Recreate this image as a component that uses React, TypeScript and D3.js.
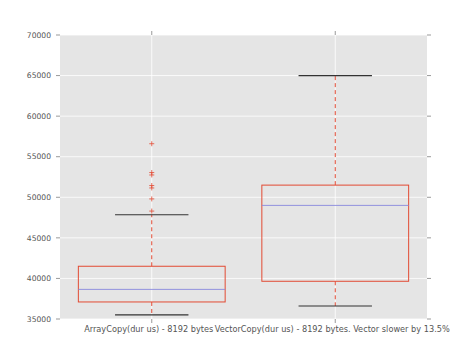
import React from 'react';
import * as d3 from 'd3';

const categories = [
  'ArrayCopy(dur us) - 8192 bytes',
  'VectorCopy(dur us) - 8192 bytes. Vector slower by 13.5%',
];
// box stats: whisker low, q1, median, q3, whisker high
const whiskerLow = [35500, 36600];
const q1 = [37100, 39650];
const medians = [38650, 49000];
const q3 = [41500, 51500];
const whiskerHigh = [47850, 65000];
const fliers = [
  [48300, 49800, 51150, 51450, 52750, 53050, 56600],
  [],
];
const yTicks = [35000, 40000, 45000, 50000, 55000, 60000, 65000, 70000];

const W = 474;
const H = 355;
const margin = { left: 60, right: 47, top: 35, bottom: 36 };

export default function App() {
  const x = d3.scaleLinear().domain([0.5, 2.5]).range([margin.left, W - margin.right]);
  const y = d3.scaleLinear().domain([35000, 70000]).range([H - margin.bottom, margin.top]);
  const font = 'DejaVu Sans, sans-serif';
  const boxW = x(1.4) - x(1);
  const capW = x(1.2) - x(1);
  const red = '#E24A33';
  const tickColor = '#555';

  return (
    <svg width={W} height={H} style={{ position: 'absolute', left: 0, top: 0, background: '#fff' }}>
      <rect x={x(0.5)} y={y(70000)} width={x(2.5) - x(0.5)} height={y(35000) - y(70000)} fill="#E5E5E5" />
      {yTicks.map((t) => (
        <g key={t}>
          <line x1={x(0.5)} x2={x(2.5)} y1={y(t)} y2={y(t)} stroke="#fff" strokeWidth={0.8} />
          <line x1={x(0.5) - 4} x2={x(0.5)} y1={y(t)} y2={y(t)} stroke={tickColor} strokeWidth={0.6} />
          <line x1={x(2.5)} x2={x(2.5) + 4} y1={y(t)} y2={y(t)} stroke={tickColor} strokeWidth={0.6} />
          <text x={x(0.5) - 9} y={y(t)} dy="0.35em" textAnchor="end" fontFamily={font} fontSize={7.6} fill={tickColor}>
            {t}
          </text>
        </g>
      ))}
      {categories.map((c, i) => {
        const cx = x(i + 1);
        return (
          <g key={c}>
            <line x1={cx} x2={cx} y1={y(70000)} y2={y(35000)} stroke="#fff" strokeWidth={0.8} />
            <line x1={cx} x2={cx} y1={y(35000)} y2={y(35000) + 4} stroke={tickColor} strokeWidth={0.6} />
            <line x1={cx} x2={cx} y1={y(70000) - 4} y2={y(70000)} stroke={tickColor} strokeWidth={0.6} />
            <text x={cx - 3} y={y(35000) + 10} dy="0.35em" textAnchor="middle" fontFamily={font} fontSize={8.2} fill={tickColor}>
              {c}
            </text>
          </g>
        );
      })}
      {categories.map((c, i) => {
        const cx = x(i + 1);
        return (
          <g key={'box' + i}>
            <line x1={cx} x2={cx} y1={y(q3[i])} y2={y(whiskerHigh[i])} stroke={red} strokeWidth={1} strokeDasharray="4,3" />
            <line x1={cx} x2={cx} y1={y(q1[i])} y2={y(whiskerLow[i])} stroke={red} strokeWidth={1} strokeDasharray="4,3" />
            <line x1={cx - capW} x2={cx + capW} y1={y(whiskerHigh[i])} y2={y(whiskerHigh[i])} stroke="#333" strokeWidth={1.2} />
            <line x1={cx - capW} x2={cx + capW} y1={y(whiskerLow[i])} y2={y(whiskerLow[i])} stroke="#333" strokeWidth={1.2} />
            <rect x={cx - boxW} y={y(q3[i])} width={boxW * 2} height={y(q1[i]) - y(q3[i])} fill="none" stroke={red} strokeWidth={1} />
            <line x1={cx - boxW} x2={cx + boxW} y1={y(medians[i])} y2={y(medians[i])} stroke="#8888DD" strokeWidth={0.9} />
            {fliers[i].map((f, j) => (
              <path key={j} d={`M${cx - 2.5},${y(f)}h5M${cx},${y(f) - 2.5}v5`} stroke={red} strokeWidth={0.8} />
            ))}
          </g>
        );
      })}
    </svg>
  );
}
